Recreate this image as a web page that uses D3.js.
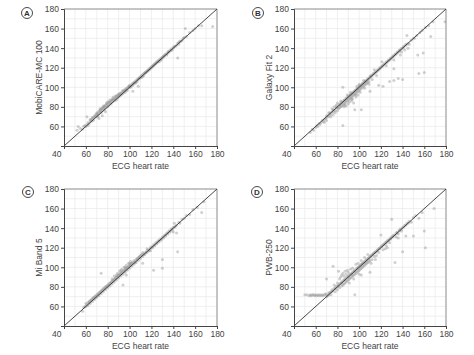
<!DOCTYPE html>
<html><head><meta charset="utf-8">
<script src="https://cdn.jsdelivr.net/npm/d3@7"></script>
<style>body{margin:0;background:#fff}svg{display:block}</style>
</head><body>
<svg id="c" width="474" height="355"></svg>
<script>
const tickValues = [40,60,80,100,120,140,160,180];
const panelLetters = ["A","B","C","D"];
const deviceNames = ["MobiCARE-MC 100","Galaxy Fit 2","Mi Band 5","PWB-250"];
const xTitle = "ECG heart rate";

const dataA = [[52,56],[53,60],[55,58],[57,57],[58,60],[59,61],[60,60],[61,62],[61,70],[62,61],[62,64],[63,63],[64,66],[65,65],[65,67],[66,68],[67,66],[67,69],[68,70],[69,72],[70,71],[70,73],[71,70],[71,74],[72,73],[72,76],[72,68],[73,75],[73,78],[74,74],[74,77],[75,76],[75,79],[75,71],[76,78],[76,81],[77,77],[77,80],[78,79],[78,82],[78,75],[79,81],[79,84],[80,80],[80,83],[81,82],[81,85],[82,84],[82,87],[83,83],[83,86],[84,85],[84,88],[85,87],[85,90],[86,86],[86,89],[87,88],[87,91],[88,87],[88,90],[89,89],[89,92],[90,90],[90,93],[91,91],[91,94],[92,92],[93,95],[93,93],[94,94],[94,97],[95,96],[96,95],[96,98],[97,97],[98,99],[98,97],[99,100],[100,100],[100,102],[101,101],[102,103],[103,102],[103,96],[104,105],[105,104],[106,107],[107,106],[108,109],[108,101],[109,110],[110,110],[111,112],[112,111],[113,114],[114,115],[115,115],[116,117],[117,117],[118,119],[119,119],[120,121],[121,121],[122,123],[123,123],[124,125],[125,125],[126,127],[127,126],[128,129],[129,128],[130,131],[131,131],[132,133],[134,134],[135,136],[136,136],[138,139],[139,138],[140,141],[142,142],[144,145],[145,144],[144,130],[146,147],[148,148],[150,151],[151,160],[152,152],[155,156],[158,158],[160,160],[163,163],[166,163],[176,162],
[64,67],[66,69],[68,71],[69,70],[70,74],[71,72],[73,76],[74,78],[76,79],[77,81],[79,83],[80,85],[82,85],[84,87],[86,88],[88,91],[90,92],[92,94],[94,96],[96,97],[97,99],[99,101],[100,101],[101,100],[102,102],[103,104],[104,104],[105,106],[106,105],[107,108],[108,108],[109,109],[110,111],[111,110],[112,113],[113,112],[114,114],[115,116],[116,116],[117,118],[118,118],[119,120],[120,120],[121,122],[122,122],[123,124],[124,124],[125,126],[126,126],[127,128],[128,128],[129,130],[130,130],[131,132],[132,132],[133,134],[134,133],[135,135],[136,137],[137,137],[138,138],[140,140],[141,142],[143,143],[145,146],[147,147],[149,150]];

const dataB = [[55,54],[57,57],[58,56],[60,59],[61,61],[62,60],[63,63],[64,62],[65,64],[66,66],[67,65],[68,67],[68,64],[69,68],[70,69],[70,66],[71,71],[72,70],[72,74],[73,72],[74,73],[74,70],[75,75],[75,78],[76,75],[76,72],[77,77],[77,80],[78,76],[78,74],[79,79],[79,82],[80,79],[80,76],[80,84],[81,81],[81,78],[82,82],[82,79],[83,83],[83,80],[83,86],[84,84],[84,81],[85,85],[85,82],[85,100],[85,61],[86,86],[86,83],[86,80],[87,87],[87,84],[88,88],[88,85],[88,81],[89,89],[89,86],[89,92],[90,90],[90,87],[90,83],[91,91],[91,88],[91,85],[92,92],[92,89],[92,95],[93,93],[93,90],[93,86],[94,94],[94,91],[94,88],[95,95],[95,92],[95,84],[96,96],[96,93],[96,77],[97,97],[97,94],[97,90],[98,98],[98,95],[98,101],[99,99],[99,96],[99,92],[100,100],[100,97],[100,103],[101,101],[101,98],[102,102],[102,99],[102,77],[103,103],[103,100],[104,104],[104,101],[104,107],[105,105],[105,102],[106,106],[106,103],[107,107],[107,104],[108,108],[108,105],[109,109],[109,106],[110,110],[110,96],[111,111],[112,112],[112,108],[113,113],[114,114],[114,118],[115,115],[116,116],[116,112],[117,117],[118,118],[118,102],[119,119],[120,120],[121,121],[121,126],[122,122],[122,101],[123,123],[124,124],[125,125],[125,122],[126,126],[127,127],[128,128],[128,106],[129,129],[130,130],[131,131],[132,132],[132,119],[132,107],[132,128],[133,133],[134,134],[135,135],[136,136],[136,109],[137,137],[138,138],[138,133],[139,136],[140,140],[140,108],[141,141],[142,138],[143,143],[144,153],[145,145],[145,140],[146,144],[148,148],[150,150],[151,150],[153,153],[154,133],[155,114],[156,156],[158,158],[159,135],[160,115],[161,161],[164,163],[166,152],[168,167],[179,167],
[70,71],[73,74],[76,77],[79,80],[82,83],[84,85],[86,87],[88,89],[90,91],[92,93],[94,95],[96,97],[98,99],[100,101],[101,102],[103,104],[105,106],[106,107],[108,109],[110,111],[111,112],[113,114],[115,116],[117,118],[119,120],[121,122],[123,124],[125,126],[127,128],[129,130],[131,132],[133,134],[135,136],[137,138],[139,140],[141,142],[143,144],[87,82],[93,88],[97,92],[101,95],[105,99],[109,103]];

const dataC = [[57,55],[58,59],[59,60],[60,60],[60,63],[61,62],[62,61],[62,64],[63,65],[64,63],[64,66],[65,67],[66,65],[66,68],[67,69],[68,67],[68,70],[69,71],[70,69],[70,72],[71,73],[72,71],[72,74],[73,75],[74,73],[74,76],[74,94],[75,77],[76,75],[76,78],[77,79],[78,77],[78,80],[79,81],[80,79],[80,82],[81,83],[82,81],[82,84],[83,85],[84,83],[84,86],[85,87],[86,85],[86,88],[86,91],[87,89],[88,87],[88,90],[89,91],[89,94],[90,89],[90,92],[91,93],[91,96],[92,91],[92,94],[93,95],[93,98],[94,93],[94,96],[94,82],[95,97],[95,100],[96,95],[96,98],[97,99],[97,102],[97,92],[98,97],[98,100],[99,101],[99,104],[100,99],[100,102],[101,103],[101,106],[102,101],[102,104],[103,105],[104,103],[104,107],[105,106],[106,105],[106,108],[107,109],[108,107],[108,110],[109,111],[110,109],[110,112],[111,113],[112,111],[112,115],[112,104],[113,114],[114,113],[115,116],[116,115],[116,119],[117,118],[118,117],[119,120],[119,117],[120,121],[121,120],[122,123],[122,97],[123,122],[124,125],[125,124],[126,127],[127,126],[128,129],[129,128],[130,131],[130,108],[130,99],[131,130],[132,133],[133,132],[134,135],[135,134],[136,137],[137,136],[138,139],[139,138],[140,141],[140,136],[141,145],[142,142],[143,135],[144,116],[145,146],[146,145],[148,149],[150,150],[152,153],[155,154],[158,159],[162,161],[166,156],[168,167],
[63,64],[65,66],[67,68],[69,70],[71,72],[73,74],[75,76],[77,78],[79,80],[81,82],[83,84],[85,86],[87,88],[89,90],[91,92],[93,94],[95,96],[97,98],[99,100],[101,102],[103,104],[105,105],[107,108],[109,110],[111,112],[113,113],[115,115],[117,117],[119,119],[121,121],[123,123],[125,125],[127,127],[129,129],[131,131],[133,133],[135,135],[137,137],[139,139],[141,141],[143,143],[84,88],[88,92],[92,97],[96,100],[100,104]];

const dataD = [[50,72],[52,72],[54,71],[55,72],[56,71],[57,72],[58,72],[59,71],[60,72],[61,71],[62,72],[63,71],[64,72],[65,71],[66,72],[67,71],[68,72],[69,73],[70,72],[71,71],[72,72],[74,72],[73,74],[70,70],[72,74],[74,75],[75,77],[76,76],[76,101],[77,78],[77,82],[78,79],[78,75],[79,81],[80,80],[80,84],[80,77],[81,96],[81,82],[82,83],[82,79],[82,88],[83,84],[83,90],[84,85],[84,81],[84,92],[85,86],[85,82],[85,94],[86,87],[86,83],[86,91],[87,88],[87,84],[87,96],[88,89],[88,85],[88,93],[89,90],[89,86],[89,97],[90,91],[90,87],[90,95],[91,92],[91,88],[91,84],[92,93],[92,89],[92,98],[93,94],[93,90],[94,95],[94,91],[94,99],[95,96],[95,92],[95,88],[96,97],[96,93],[96,72],[97,98],[97,94],[97,103],[98,99],[98,95],[99,100],[99,96],[99,104],[100,101],[100,97],[100,93],[101,102],[101,98],[102,103],[102,99],[102,107],[102,92],[103,104],[103,100],[104,105],[104,101],[105,106],[105,102],[105,110],[106,107],[106,103],[107,108],[107,104],[108,109],[108,105],[108,113],[109,110],[109,106],[110,111],[110,107],[110,95],[111,112],[112,113],[112,108],[113,114],[114,115],[114,111],[115,116],[116,117],[116,112],[117,118],[118,119],[118,115],[119,120],[120,121],[120,133],[121,122],[122,123],[122,118],[123,124],[124,125],[125,126],[125,122],[126,127],[127,128],[128,129],[128,125],[129,130],[130,131],[130,149],[131,132],[132,133],[133,105],[134,135],[135,136],[136,134],[137,138],[138,139],[139,137],[140,141],[140,116],[142,143],[143,132],[144,145],[146,147],[148,146],[150,132],[150,151],[152,153],[155,150],[158,156],[160,137],[161,120],[169,160],[70,88],
[75,75],[78,78],[81,81],[84,84],[87,87],[90,90],[93,93],[96,96],[99,99],[101,101],[103,103],[105,105],[107,107],[109,109],[111,111],[113,113],[115,115],[117,117],[119,119],[121,121],[123,123],[125,125],[127,127],[129,129],[131,131],[133,133],[135,135],[137,137],[139,139],[141,141],[143,143],[145,145],[124,119],[126,120],[134,131],[136,130],[111,104],[115,108]];

const panelData = [dataA, dataB, dataC, dataD];
const layouts = [
  {x0:64, x1:217, y0:9,   y1:146, cx:27,  cy:13,  ytx:39},
  {x0:294,x1:446, y0:9,   y1:146, cx:258, cy:13,  ytx:269},
  {x0:64, x1:217, y0:189, y1:326, cx:28,  cy:192, ytx:39},
  {x0:294,x1:446, y0:189, y1:326, cx:257, cy:192, ytx:269}
];

const svg = d3.select("#c");
const font = "'Liberation Sans', Arial, sans-serif";

layouts.forEach((L, i) => {
  const g = svg.append("g");
  const x = d3.scaleLinear().domain([40,180]).range([L.x0, L.x1]);
  const y = d3.scaleLinear().domain([40,180]).range([L.y1, L.y0]);

  const gridVals = d3.range(50, 180, 10);
  g.selectAll(".gx").data(gridVals).join("line")
    .attr("x1", d=>x(d)).attr("x2", d=>x(d)).attr("y1", L.y0).attr("y2", L.y1)
    .attr("stroke", "#ebebeb").attr("stroke-width", 0.8);
  g.selectAll(".gy").data(gridVals).join("line")
    .attr("y1", d=>y(d)).attr("y2", d=>y(d)).attr("x1", L.x0).attr("x2", L.x1)
    .attr("stroke", "#ebebeb").attr("stroke-width", 0.8);

  g.append("path").attr("d", `M${L.x0},${L.y0}H${L.x1}V${L.y1}`)
    .attr("fill","none").attr("stroke","#8a8a8a").attr("stroke-width",1);

  g.selectAll("circle.pt").data(panelData[i]).join("circle")
    .attr("cx", d=>x(d[0])).attr("cy", d=>y(d[1])).attr("r", 1.5)
    .attr("fill", "#8f8f8f").attr("fill-opacity", 0.42);

  g.append("line").attr("x1", x(40)).attr("y1", y(40)).attr("x2", x(180)).attr("y2", y(180))
    .attr("stroke", "#333").attr("stroke-width", 0.9);

  const xa = g.append("g").attr("transform", `translate(0,${L.y1})`)
    .call(d3.axisBottom(x).tickValues(tickValues).tickSize(3).tickPadding(2));
  const ya = g.append("g").attr("transform", `translate(${L.x0},0)`)
    .call(d3.axisLeft(y).tickValues(tickValues.slice(1)).tickSize(3).tickPadding(2));
  [xa, ya].forEach(a => {
    a.select(".domain").attr("stroke", "#444");
    a.selectAll(".tick line").attr("stroke", "#444");
    a.selectAll("text").attr("font-family", font).attr("font-size", 8.5).attr("fill", "#444");
  });
  xa.selectAll(".tick").filter(d => d === 40).select("text")
    .attr("text-anchor", "end").attr("dx", "-3");
  ya.selectAll(".tick text").attr("dy", "0.34em");

  g.append("text").attr("x", (L.x0+L.x1)/2).attr("y", L.y1 + 23)
    .attr("text-anchor","middle").attr("font-family", font).attr("font-size", 8.5)
    .attr("fill","#444").text(xTitle);
  g.append("text").attr("transform", `translate(${L.ytx},${(L.y0+L.y1)/2}) rotate(-90)`)
    .attr("text-anchor","middle").attr("dy","0.34em").attr("font-family", font).attr("font-size", 8.5)
    .attr("fill","#444").text(deviceNames[i]);

  g.append("circle").attr("cx", L.cx).attr("cy", L.cy).attr("r", 5.5)
    .attr("fill","#fff").attr("stroke","#333").attr("stroke-width",0.9);
  g.append("text").attr("x", L.cx).attr("y", L.cy).attr("dy","0.35em")
    .attr("text-anchor","middle").attr("font-family", font).attr("font-size", 8)
    .attr("font-weight","bold").attr("fill","#333").text(panelLetters[i]);
});
</script>
</body></html>
